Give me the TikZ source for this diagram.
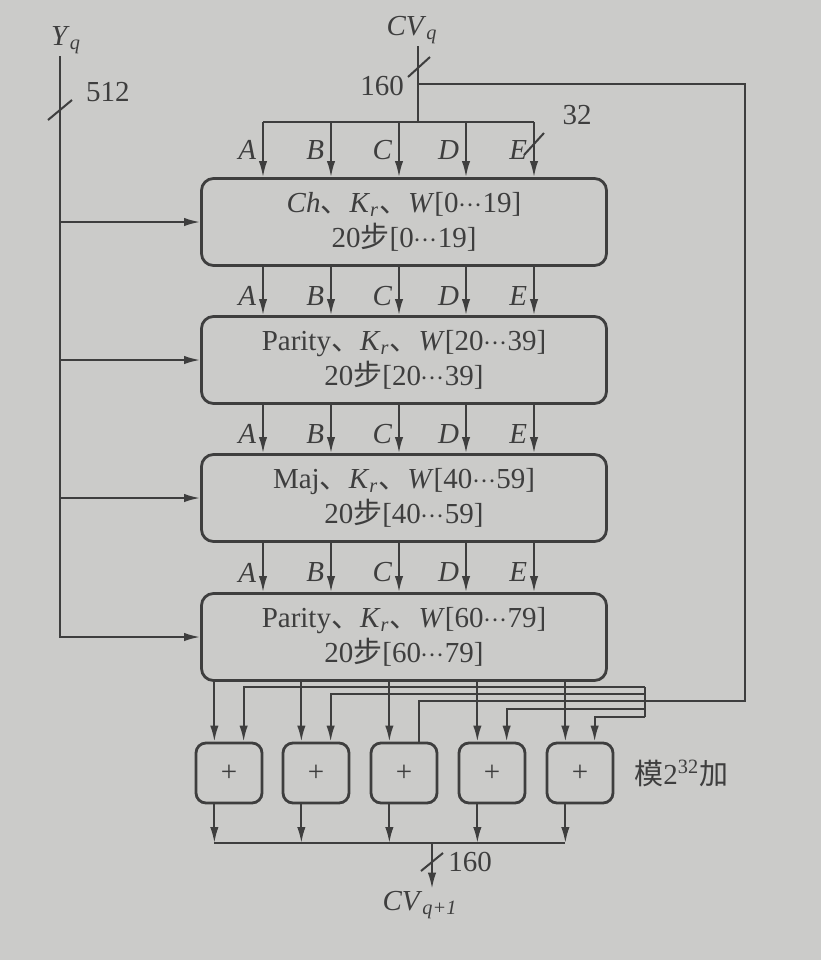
\documentclass[tikz,border=0pt]{standalone}
\usepackage{fontspec}
\setmainfont{Liberation Serif}
\newfontfamily\cjk{Noto Sans CJK SC}
\usetikzlibrary{positioning, arrows.meta}
\newcommand{\isub}[2]{\textit{#1}\textsubscript{\textit{#2}}}
\newcommand{\dun}{{\cjk 、}}
\newcommand{\tdots}{${\cdot}{\cdot}{\cdot}$}
\definecolor{paper}{RGB}{203,203,201}
\definecolor{ink}{RGB}{62,62,62}

\begin{document}
\begin{tikzpicture}[
    x=0.5pt, y=-0.5pt,
    % GLOBAL CFG
    font=\fontsize{14.5}{17.5}\selectfont,
    >={Latex[length=8pt,width=4.2pt]},
    % Styles
    round/.style={% For the four 20-step boxes
        rectangle,
        rounded corners=6pt,
        draw=ink,
        line width=1.4pt,
        minimum width=202.5pt,
        minimum height=43.5pt,
        align=center,
        text=ink,
        },
    adder/.style={% For the mod 2^32 adders
        rectangle,
        rounded corners=5pt,
        draw=ink,
        line width=1.4pt,
        minimum width=33pt,
        minimum height=30pt,
        text=ink,
        },
    wire/.style={% Plain connectors
        draw=ink,
        line width=1pt,
        },
    letter/.style={% A..E next to the arrows
        font=\fontsize{14.5}{17}\selectfont\itshape,
        text=ink,
        anchor=east,
        inner sep=1pt,
        xshift=-2pt,
        },
    mylabel/.style={% bit widths and names
        text=ink,
        inner sep=1pt,
        },
    cut/.style={% slash on a bus
        draw=ink,
        line width=1pt,
        },
    ]

    % Paper
    \fill [paper] (0,0) rectangle (821,960);

    % External inputs
    \node [mylabel] (Yq) at (66,40) {\isub{Y}{q}};
    \node [mylabel] (CVq) at (412,30) {\isub{CV}{q}};

    % Helper coordinates
    \coordinate (ybus) at (60,637);
    \coordinate (cvsplit) at (418,84);
    \coordinate (topbus) at (418,122);
    \coordinate (colA) at (263,0);
    \coordinate (colB) at (331,0);
    \coordinate (colC) at (399,0);
    \coordinate (colD) at (466,0);
    \coordinate (colE) at (534,0);

    % Draw the rounds
    \node [round] (round1) at (404,222)
        {\textit{Ch}\dun\isub{K}{r}\dun\textit{W}[0\tdots19]\\20{\cjk 步}[0\tdots19]};
    \node [round] (round2) at (404,360)
        {Parity\dun\isub{K}{r}\dun\textit{W}[20\tdots39]\\20{\cjk 步}[20\tdots39]};
    \node [round] (round3) at (404,498)
        {Maj\dun\isub{K}{r}\dun\textit{W}[40\tdots59]\\20{\cjk 步}[40\tdots59]};
    \node [round] (round4) at (404,637)
        {Parity\dun\isub{K}{r}\dun\textit{W}[60\tdots79]\\20{\cjk 步}[60\tdots79]};

    % Draw the adders
    \node [adder] (add1) at (229,773) {+};
    \node [adder] (add2) at (316,773) {+};
    \node [adder] (add3) at (404,773) {+};
    \node [adder] (add4) at (492,773) {+};
    \node [adder] (add5) at (580,773) {+};
    \node [mylabel, anchor=west] (mod) at (632,773) {{\cjk 模}2\textsuperscript{32}{\cjk 加}};

    % Message block on the left
    \draw [->, wire] (Yq.south -| ybus) |- (round4.west);
    \draw [->, wire] (round1.west -| ybus) -- (round1.west);
    \draw [->, wire] (round2.west -| ybus) -- (round2.west);
    \draw [->, wire] (round3.west -| ybus) -- (round3.west);
    \draw [cut] (60,110) ++(-12,10) -- ++(24,-20);
    \node [mylabel] (n512) at (108,92) {512};

    % Chaining value into the first round
    \draw [wire] (CVq.south -| topbus) -- (topbus);
    \draw [wire] (colA |- topbus) -- (colE |- topbus);
    \draw [cut] (419,67) ++(-11,10) -- ++(22,-20);
    \node [mylabel] (n160) at (382,86) {160};
    \draw [->, wire] (colA |- topbus) -- node[letter] {A} (colA |- round1.north);
    \draw [->, wire] (colB |- topbus) -- node[letter] {B} (colB |- round1.north);
    \draw [->, wire] (colC |- topbus) -- node[letter] {C} (colC |- round1.north);
    \draw [->, wire] (colD |- topbus) -- node[letter] {D} (colD |- round1.north);
    \draw [->, wire] (colE |- topbus) -- node[letter] {E} (colE |- round1.north);
    \draw [cut] (534,144) ++(-10,11) -- ++(20,-22);
    \node [mylabel] (n32) at (577,115) {32};

    % Between the rounds
    \foreach \up/\down in {round1/round2, round2/round3, round3/round4} {
        \foreach \c/\l in {colA/A, colB/B, colC/C, colD/D, colE/E}
            \draw [->, wire] (\c |- \up.south) -- node[letter, pos=0.6] {\l} (\c |- \down.north);
    }

    % Feedback of CV_q
    \coordinate (fbtop) at (745,84);
    \coordinate (fbbot) at (745,701);
    \coordinate (fb1) at (645,687);
    \coordinate (fb2) at (645,694);
    \coordinate (fb3) at (645,701);
    \coordinate (fb4) at (645,709);
    \coordinate (fb5) at (645,717);
    \draw [wire] (cvsplit) -- (fbtop) -- (fbbot) -- (fb3);
    \draw [wire] (fb1) -- (fb5);
    \draw [->, wire] (fb1) -| (add1.65);
    \draw [->, wire] (fb2) -| (add2.65);
    \draw [wire] (fb3) -| (add3.65);
    \draw [->, wire] (fb4) -| (add4.65);
    \draw [->, wire] (fb5) -| (add5.65);

    % Last round into the adders
    \draw [->, wire] (add1.115 |- round4.south) -- (add1.115);
    \draw [->, wire] (add2.115 |- round4.south) -- (add2.115);
    \draw [->, wire] (add3.115 |- round4.south) -- (add3.115);
    \draw [->, wire] (add4.115 |- round4.south) -- (add4.115);
    \draw [->, wire] (add5.115 |- round4.south) -- (add5.115);

    % Outputs
    \coordinate (outbus) at (432,843);
    \node [mylabel] (CVq1) at (420,905) {\isub{CV}{q+1}};
    \draw [->, wire] (add1.245) -- (add1.245 |- outbus);
    \draw [->, wire] (add2.245) -- (add2.245 |- outbus);
    \draw [->, wire] (add3.245) -- (add3.245 |- outbus);
    \draw [->, wire] (add4.245) -- (add4.245 |- outbus);
    \draw [->, wire] (add5.245) -- (add5.245 |- outbus);
    \draw [wire] (add1.245 |- outbus) -- (add5.245 |- outbus);
    \draw [->, wire] (outbus) -- (outbus |- CVq1.north);
    \draw [cut] (432,862) ++(-11,9) -- ++(22,-18);
    \node [mylabel] (n160b) at (470,862) {160};

\end{tikzpicture}
\end{document}
